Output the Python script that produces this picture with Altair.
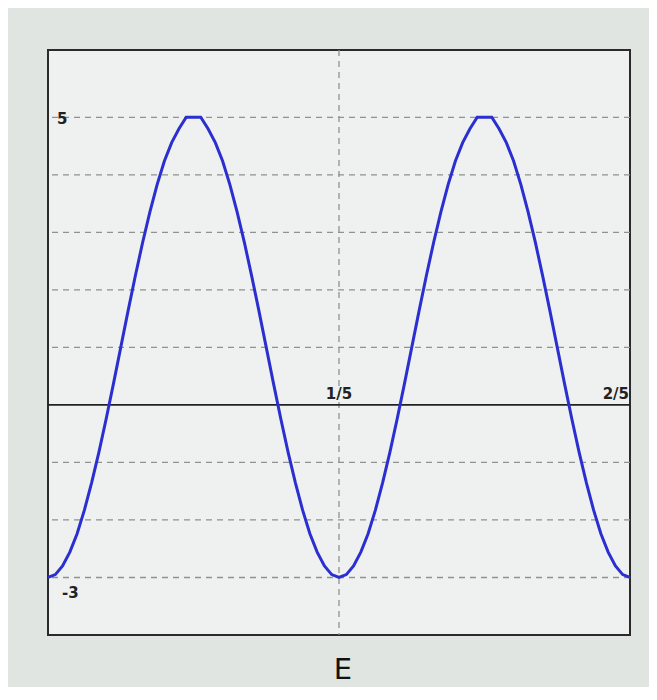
import altair as alt
import pandas as pd

# Curve samples (x step 0.005, from 0 to 0.4)
x_vals = [round(i * 0.005, 3) for i in range(81)]
y_vals = [
    -3.0, -2.95, -2.8, -2.56, -2.24, -1.83, -1.35, -0.82, -0.24, 0.37,
    1.0, 1.63, 2.24, 2.82, 3.35, 3.83, 4.24, 4.56, 4.8, 5.0, 5.0,
    5.0, 4.8, 4.56, 4.24, 3.83, 3.35, 2.82, 2.24, 1.63, 1.0,
    0.37, -0.24, -0.82, -1.35, -1.83, -2.24, -2.56, -2.8, -2.95, -3.0,
    -2.95, -2.8, -2.56, -2.24, -1.83, -1.35, -0.82, -0.24, 0.37, 1.0,
    1.63, 2.24, 2.82, 3.35, 3.83, 4.24, 4.56, 4.8, 5.0, 5.0,
    5.0, 4.8, 4.56, 4.24, 3.83, 3.35, 2.82, 2.24, 1.63, 1.0,
    0.37, -0.24, -0.82, -1.35, -1.83, -2.24, -2.56, -2.8, -2.95, -3.0,
]

grid_y = [-3, -2, -1, 1, 2, 3, 4, 5]
grid_x = [0.2]
x_tick_labels = ["1/5", "2/5"]
x_tick_values = [0.2, 0.4]
y_tick_labels = ["5", "-3"]
y_tick_values = [5, -3]
x_title = "E"

W, H = 582, 585
xs = alt.Scale(domain=[0, 0.4], nice=False, zero=False)
ys = alt.Scale(domain=[-4, 6.17], nice=False, zero=False)

curve = pd.DataFrame({"x": x_vals, "y": y_vals})

hgrid = alt.Chart(pd.DataFrame({"y": grid_y})).mark_rule(
    color="#8f9290", strokeDash=[6, 5], strokeWidth=1.3
).encode(y=alt.Y("y:Q", scale=ys, axis=None))

vgrid = alt.Chart(pd.DataFrame({"x": grid_x})).mark_rule(
    color="#8f9290", strokeDash=[6, 5], strokeWidth=1.3
).encode(x=alt.X("x:Q", scale=xs, axis=None))

xaxis = alt.Chart(pd.DataFrame({"y": [0]})).mark_rule(
    color="#222222", strokeWidth=1.8
).encode(y=alt.Y("y:Q", scale=ys, axis=None))

line = alt.Chart(curve).mark_line(color="#2b2fcf", strokeWidth=3).encode(
    x=alt.X("x:Q", scale=xs, axis=None),
    y=alt.Y("y:Q", scale=ys, axis=None),
)

xlab_df = pd.DataFrame({"x": x_tick_values, "y": [0, 0], "t": x_tick_labels})
xlab1 = alt.Chart(xlab_df.iloc[[0]]).mark_text(
    fontWeight="bold", fontSize=15, font="DejaVu Sans", align="center",
    baseline="bottom", dy=-3, color="#222222"
).encode(
    x=alt.X("x:Q", scale=xs, axis=None),
    y=alt.Y("y:Q", scale=ys, axis=None),
    text="t:N",
)
xlab2 = alt.Chart(xlab_df.iloc[[1]]).mark_text(
    fontWeight="bold", fontSize=15, font="DejaVu Sans", align="right",
    baseline="bottom", dy=-3, dx=-1, color="#222222"
).encode(
    x=alt.X("x:Q", scale=xs, axis=None),
    y=alt.Y("y:Q", scale=ys, axis=None),
    text="t:N",
)

ylab_df = pd.DataFrame({"x": [0, 0], "y": y_tick_values, "t": y_tick_labels})
ylab5 = alt.Chart(ylab_df.iloc[[0]]).mark_text(
    fontWeight="bold", fontSize=15, font="DejaVu Sans", align="left",
    baseline="middle", dx=9, dy=2, color="#222222"
).encode(
    x=alt.X("x:Q", scale=xs, axis=None),
    y=alt.Y("y:Q", scale=ys, axis=None),
    text="t:N",
)
ylab3 = alt.Chart(ylab_df.iloc[[1]]).mark_text(
    fontWeight="bold", fontSize=15, font="DejaVu Sans", align="left",
    baseline="middle", dx=14, dy=16, color="#222222"
).encode(
    x=alt.X("x:Q", scale=xs, axis=None),
    y=alt.Y("y:Q", scale=ys, axis=None),
    text="t:N",
)

title = alt.Chart(pd.DataFrame({"t": [x_title]})).mark_text(
    fontSize=29, font="DejaVu Sans", color="#111111", baseline="middle"
).encode(
    x=alt.value(W / 2 + 4), y=alt.value(H + 35), text="t:N"
)

chart = alt.layer(hgrid, vgrid, xaxis, line, xlab1, xlab2, ylab5, ylab3, title).properties(
    width=W, height=H,
    padding={"left": 40, "top": 42, "right": 19, "bottom": 52},
    autosize=alt.AutoSizeParams(type="none"),
    background="#e0e5e2",
).configure_view(
    fill="#eef1ef", stroke="#2a2a2a", strokeWidth=2
)

chart.save("out.html", embed_options={"renderer": "svg", "actions": False})
